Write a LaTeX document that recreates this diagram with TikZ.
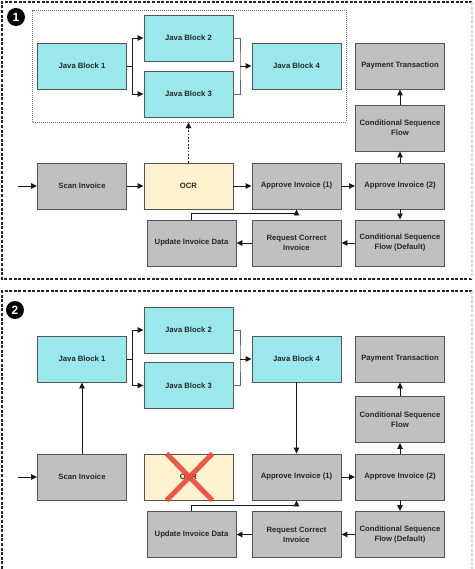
\documentclass[tikz,border=0pt]{standalone}
\usepackage{fontspec}
\setmainfont{Liberation Sans}
\usetikzlibrary{positioning, fit, arrows.meta}

\definecolor{javacyan}{RGB}{155,232,236}
\definecolor{taskgray}{RGB}{192,192,192}
\definecolor{ocryellow}{RGB}{255,242,206}
\definecolor{boxline}{RGB}{85,85,85}
\definecolor{crossred}{RGB}{236,72,60}

\begin{document}
\begin{tikzpicture}[x = 1pt, y = -1pt,
    box/.style = { draw = boxline, line width = .9pt, align = center, text = black!85,
                   font = \fontsize{7.7}{10}\selectfont\bfseries,
                   minimum width = 89pt, minimum height = 46pt, inner sep = 1pt },
    java/.style = { box, fill = javacyan },
    task/.style = { box, fill = taskgray },
    ocrbox/.style = { box, fill = ocryellow },
    flow/.style = { draw = black!90, line width = .9pt, -{Triangle[length = 6pt, width = 5.5pt]} },
    link/.style = { draw = black!60, line width = .8pt },
    frame/.style = { draw = black!85, line width = 1.1pt, dash pattern = on 3pt off 1.6pt },
    group/.style = { draw = black!55, line width = .5pt, dash pattern = on 1pt off 1pt, inner sep = 4.5pt },
    numdot/.style = { circle, fill = black, text = white, inner sep = 0pt, minimum size = 18pt,
                      font = \fontsize{12}{12}\selectfont\bfseries },
    cross/.style = { draw = crossred, line width = 5pt, opacity = .9 }]

    \useasboundingbox (0,0) rectangle (474,569);

    % panel 1
    \draw[frame] (472,279) -- (2,279) -- (2,2) -- (472,2);
    \draw[frame, draw = black!15] (472,2) -- (472,279);
    \node[numdot] (num1) at (16,17) {1};

    \node[java] (jb1a) at (82,66) {Java Block 1};
    \node[java] (jb2a) at (188.5,38) {Java Block 2};
    \node[java] (jb3a) at (188.5,94) {Java Block 3};
    \node[java] (jb4a) at (296.5,66) {Java Block 4};
    \node[group, fit = (jb1a) (jb2a) (jb3a) (jb4a)] (grp1) {};
    \node[task] (pay1) at (400,66) {Payment Transaction};
    \node[task] (csf1) at (400,128) {Conditional Sequence\\Flow};
    \node[task] (scan1) at (82,186) {Scan Invoice};
    \node[ocrbox] (ocr1) at (188.5,186) {OCR};
    \node[task] (apprA1) at (296.5,186) {Approve Invoice (1)};
    \node[task] (apprB1) at (400,186) {Approve Invoice (2)};
    \node[task] (upd1) at (191.5,243) {Update Invoice Data};
    \node[task] (req1) at (296.5,243) {Request Correct\\Invoice};
    \node[task] (csfd1) at (400,243) {Conditional Sequence\\Flow (Default)};

    \coordinate (in1) at (18,186);
    \coordinate (mrg1) at (240,66);
    \draw[flow] (jb1a.east) -- ++(5,0) |- (jb2a.west);
    \draw[flow] (jb1a.east) -- ++(5,0) |- (jb3a.west);
    \draw[link] (jb2a.east) -| (mrg1) |- (jb3a.east);
    \draw[flow] (mrg1) -- (jb4a.west);
    \draw[flow, line width = 1.8pt, dash pattern = on 1.8pt off 1.6pt] (ocr1.north) -- (ocr1.north |- grp1.south);
    \draw[flow] (in1) -- (scan1);
    \draw[flow] (scan1) -- (ocr1);
    \draw[flow] (ocr1) -- (apprA1);
    \draw[flow] (apprA1) -- (apprB1);
    \draw[flow] (apprB1) -- (csf1);
    \draw[flow] (csf1) -- (pay1);
    \draw[flow] (apprB1) -- (csfd1);
    \draw[flow] (csfd1) -- (req1);
    \draw[flow] (req1) -- (upd1);
    \draw[flow] (upd1.north) -- ++(0,-6) -| (apprA1.south);

    % panel 2
    \draw[frame] (2,569) -- (2,291) -- (472,291);
    \draw[frame, draw = black!15] (472,291) -- (472,569);
    \node[numdot] (num2) at (15,310) {2};

    \node[java] (jb1b) at (82,359) {Java Block 1};
    \node[java] (jb2b) at (188.5,330) {Java Block 2};
    \node[java] (jb3b) at (188.5,385.5) {Java Block 3};
    \node[java] (jb4b) at (296.5,359) {Java Block 4};
    \node[task] (pay2) at (400,359) {Payment Transaction};
    \node[task] (csf2) at (400,419.5) {Conditional Sequence\\Flow};
    \node[task] (scan2) at (82,477) {Scan Invoice};
    \node[ocrbox] (ocr2) at (188.5,477) {OCR};
    \node[task] (apprA2) at (296.5,477) {Approve Invoice (1)};
    \node[task] (apprB2) at (400,477) {Approve Invoice (2)};
    \node[task] (upd2) at (191.5,534.5) {Update Invoice Data};
    \node[task] (req2) at (296.5,534.5) {Request Correct\\Invoice};
    \node[task] (csfd2) at (400,534.5) {Conditional Sequence\\Flow (Default)};

    \draw[cross] ([xshift = 23pt]ocr2.north west) -- ([xshift = -21pt]ocr2.south east);
    \draw[cross] ([xshift = -21pt]ocr2.north east) -- ([xshift = 23pt]ocr2.south west);

    \coordinate (in2) at (18,477);
    \coordinate (mrg2) at (240,359);
    \draw[flow] (jb1b.east) -- ++(5,0) |- (jb2b.west);
    \draw[flow] (jb1b.east) -- ++(5,0) |- (jb3b.west);
    \draw[link] (jb2b.east) -| (mrg2) |- (jb3b.east);
    \draw[flow] (mrg2) -- (jb4b.west);
    \draw[flow] (in2) -- (scan2);
    \draw[flow] (scan2) -- (jb1b);
    \draw[flow] (jb4b) -- (apprA2);
    \draw[flow] (apprA2) -- (apprB2);
    \draw[flow] (apprB2) -- (csf2);
    \draw[flow] (csf2) -- (pay2);
    \draw[flow] (apprB2) -- (csfd2);
    \draw[flow] (csfd2) -- (req2);
    \draw[flow] (req2) -- (upd2);
    \draw[flow] (upd2.north) -- ++(0,-6) -| (apprA2.south);
\end{tikzpicture}
\end{document}
